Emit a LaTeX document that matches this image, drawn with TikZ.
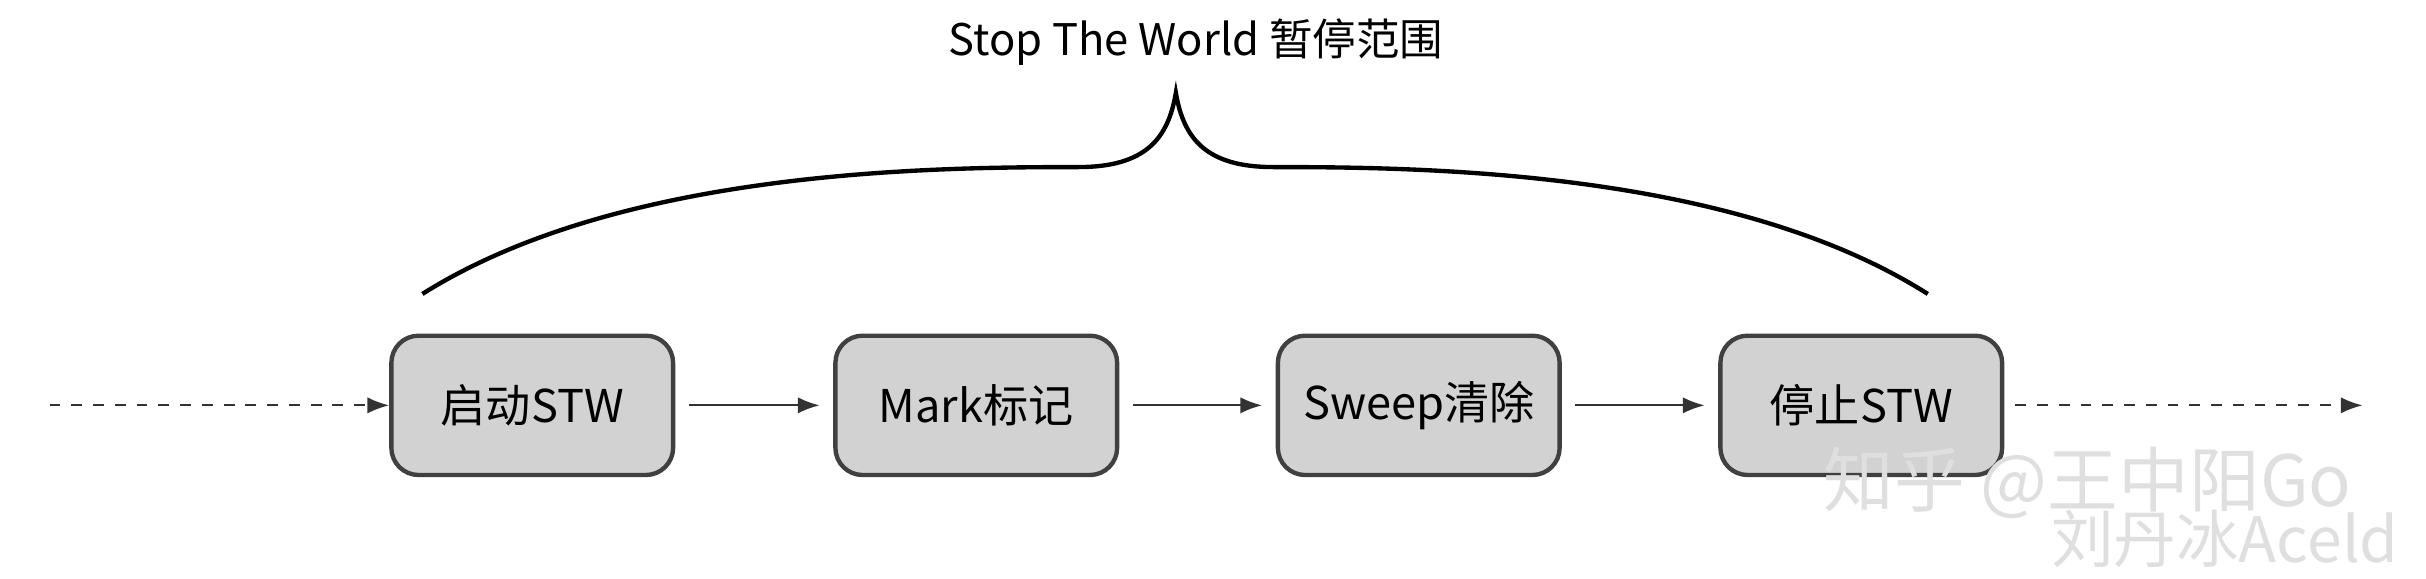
\documentclass[tikz,border=0pt]{standalone}
\usepackage{fontspec}
\setmainfont{Noto Sans CJK SC}
\usetikzlibrary{arrows.meta,positioning}

\begin{document}
\begin{tikzpicture}[
    x=0.01cm,
    y=-0.01cm,
    stage/.style={
        rectangle,
        rounded corners=5pt,
        draw=gray!50!black,
        thick,
        fill=gray!35,
        minimum width=1.82cm,
        minimum height=0.9cm,
        inner sep=1pt,
        font=\fontsize{8.3}{10}\selectfont
    },
    arrow/.style={
        draw=gray!40!black,
        -{Latex[length=4pt,width=3pt]}
    },
    dot_arrow/.style={
        arrow,
        dash pattern=on 2pt off 2pt
    },
    watermark/.style={
        text=gray!25,
        anchor=west,
        inner sep=0pt
    }
]
\useasboundingbox (0,0) rectangle (1568,374);

% Stages
\node[stage] (start) at (344,262) {启动STW};
\node[stage] (mark) at (631,262) {Mark标记};
\node[stage] (sweep) at (917,262) {Sweep清除};
\node[stage] (stop) at (1203,262) {停止STW};

% Entry and exit
\coordinate (in) at (32,262);
\coordinate (out) at (1527,262);

\draw[dot_arrow] (in) -- (start);
\draw[arrow, shorten <=2.5pt, shorten >=2.5pt] (start) -- (mark);
\draw[arrow, shorten <=2.5pt, shorten >=2.5pt] (mark) -- (sweep);
\draw[arrow, shorten <=2.5pt, shorten >=2.5pt] (sweep) -- (stop);
\draw[dot_arrow, shorten <=2pt] (stop) -- (out);

% Brace
\draw[thick] (273,190) .. controls (400,110) and (600,108) .. (697,108)
    .. controls (740,108) and (755,90) .. (760,60)
    .. controls (765,90) and (780,108) .. (823,108)
    .. controls (920,108) and (1120,110) .. (1246,190);
\node[font=\fontsize{8}{10}\selectfont] (title) at (773,27) {Stop The World 暂停范围};

% Watermark
\node[watermark, font=\fontsize{13}{15}\selectfont] (mark1) at (1178,312) {知乎 @王中阳Go};
\node[watermark, font=\fontsize{11.5}{14}\selectfont] (mark2) at (1325,348) {刘丹冰Aceld};
\end{tikzpicture}
\end{document}
